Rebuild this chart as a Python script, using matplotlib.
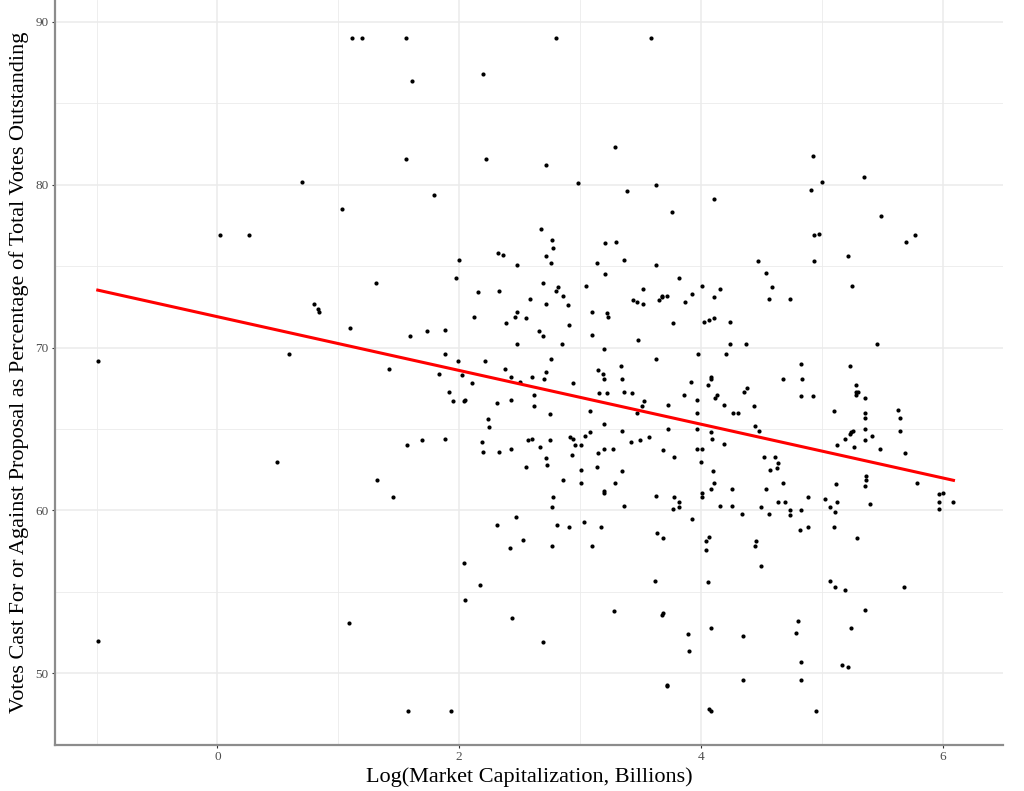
import matplotlib
matplotlib.use('Agg')
import matplotlib.pyplot as plt
import numpy as np

# log market cap (billions) and votes cast as % of outstanding
log_cap = [
    0.02, 0.26,
    1.11, 1.20, 1.56, 1.61, 2.20, 1.56, 2.22, 0.70, 1.79, 1.03,
    2.80, 3.59, 3.29, 2.72, 2.98, 3.63, 3.39, 3.76, 4.11, 2.68, 2.77, 2.78, 3.21, 3.30,
    4.93, 5.00, 4.91, 5.35, 5.49, 4.94, 4.98, 5.70, 5.77,
    -0.99, 0.59, 0.49,
    2.00, 2.32, 2.36, 2.48, 1.97, 1.31, 2.16, 2.33, 2.59, 0.80, 0.83, 0.84, 2.48, 2.46,
    2.55, 2.12, 2.39, 1.10, 1.88, 1.73, 1.59, 2.48, 1.88, 1.99, 2.21, 2.38, 1.42, 1.83,
    2.02, 2.43, 2.50, 2.60, 2.11, 1.92, 2.62, 1.95, 2.04, 2.05, 2.31, 2.43, 2.62, 2.24,
    2.25, 1.57, 1.69, 1.88, 2.19, 2.20, 2.33, 2.43, 2.57, 2.60, 2.55, 1.32, 1.45,
    2.72, 2.76, 3.14, 3.36, 3.63, 4.47, 4.54, 4.59, 3.21, 3.82, 2.69, 2.82, 2.80, 2.86,
    3.05, 3.52, 4.01, 4.16, 3.44, 3.47, 3.52, 3.65, 3.68, 3.68, 3.72, 3.93, 3.87, 4.11,
    4.56, 2.72, 2.90, 3.10, 3.22, 3.23, 2.91, 3.77, 4.03, 4.07, 4.11, 4.24, 2.66, 3.10,
    2.69, 3.48, 2.85, 4.24, 4.37, 3.20, 3.98, 4.21, 2.76, 3.63, 3.34, 2.72, 3.15, 3.19,
    3.35, 3.20, 2.70, 4.08, 4.08, 2.94, 3.92, 4.06, 4.38, 4.36, 3.16, 3.22, 3.36, 3.43,
    3.86, 4.13, 4.12, 3.97, 3.53, 3.51, 3.73, 4.19, 4.44, 3.08, 2.75, 3.47, 3.97, 4.27,
    4.31, 3.20, 4.45, 3.73, 3.97, 4.48, 3.35, 4.08, 3.08, 3.04, 2.92, 2.94, 2.75, 3.57,
    4.09, 3.42, 3.50, 4.19, 3.01, 2.67, 2.96, 3.20, 3.27, 3.69, 3.97, 4.01, 3.15, 2.93,
    3.78, 2.72, 4.52, 4.61, 4.00, 2.73, 3.14, 3.01, 3.35, 4.10, 4.57, 2.86, 3.29, 4.11,
    3.01, 3.20, 3.20, 3.63, 4.08, 4.01, 4.01, 4.26, 4.54, 2.78, 3.78,
    5.22, 4.94, 5.25, 4.74, 5.46, 4.83, 5.23, 4.68, 4.84, 4.83, 4.93, 5.28, 5.28, 5.30,
    5.28, 5.36, 5.10, 5.36, 5.36, 5.63, 5.65, 5.65, 5.36, 5.26, 5.24, 5.23, 5.19, 5.42,
    5.36, 5.13, 5.27, 5.48, 5.69, 4.64, 4.63, 4.68, 5.12, 5.37, 5.37, 5.36, 5.79, 4.89,
    5.03, 5.97, 6.00,
    -0.99,
    2.47, 2.31, 2.53, 2.42, 2.04, 2.17, 2.05, 2.44, 1.09, 1.58, 1.93,
    2.77, 3.36, 3.82, 3.82, 3.77, 4.16, 4.26, 4.50, 4.34, 4.56, 3.93, 2.81, 2.91, 3.03,
    3.17, 3.64, 3.69, 4.07, 4.04, 4.04, 4.46, 4.45, 2.77, 3.10, 4.50, 3.62, 4.06, 3.28,
    3.68, 3.69, 2.69, 3.89, 3.90, 4.08, 4.35, 4.35, 3.72, 3.72, 4.07, 4.08,
    4.64, 4.70, 5.13, 5.40, 5.97, 6.09, 5.97, 4.74, 4.74, 4.83, 5.07, 5.11, 4.82, 4.89,
    5.10, 5.29, 5.07, 5.11, 5.19, 5.68, 5.36, 4.80, 4.79, 5.24, 4.83, 5.17, 5.22, 4.83,
    4.95,
]
vote_pct = [
    76.9, 76.9,
    89.0, 89.0, 89.0, 86.4, 86.8, 81.6, 81.6, 80.2, 79.4, 78.5,
    89.0, 89.0, 82.3, 81.2, 80.1, 80.0, 79.6, 78.3, 79.1, 77.3, 76.6, 76.1, 76.4, 76.5,
    81.8, 80.2, 79.7, 80.5, 78.1, 76.9, 77.0, 76.5, 76.9,
    69.2, 69.6, 63.0,
    75.4, 75.8, 75.7, 75.1, 74.3, 74.0, 73.4, 73.5, 73.0, 72.7, 72.4, 72.2, 72.2, 71.9,
    71.8, 71.9, 71.5, 71.2, 71.1, 71.0, 70.7, 70.2, 69.6, 69.2, 69.2, 68.7, 68.7, 68.4,
    68.3, 68.2, 67.9, 68.2, 67.8, 67.3, 67.1, 66.7, 66.7, 66.8, 66.6, 66.8, 66.4, 65.6,
    65.1, 64.0, 64.3, 64.4, 64.2, 63.6, 63.6, 63.8, 64.3, 64.4, 62.7, 61.9, 60.8,
    75.6, 75.2, 75.2, 75.4, 75.1, 75.3, 74.6, 73.7, 74.5, 74.3, 74.0, 73.7, 73.5, 73.2,
    73.8, 73.6, 73.8, 73.6, 72.9, 72.8, 72.7, 72.9, 73.1, 73.2, 73.2, 73.3, 72.8, 73.1,
    73.0, 72.7, 72.6, 72.2, 72.1, 71.9, 71.4, 71.5, 71.6, 71.7, 71.8, 71.6, 71.0, 70.8,
    70.7, 70.5, 70.2, 70.2, 70.2, 69.9, 69.6, 69.6, 69.3, 69.3, 68.9, 68.5, 68.6, 68.4,
    68.1, 68.1, 68.1, 68.2, 68.1, 67.8, 67.9, 67.7, 67.5, 67.3, 67.2, 67.2, 67.3, 67.2,
    67.1, 67.1, 66.9, 66.8, 66.7, 66.4, 66.5, 66.5, 66.4, 66.1, 65.9, 66.0, 66.0, 66.0,
    66.0, 65.3, 65.2, 65.0, 65.0, 64.9, 64.9, 64.8, 64.8, 64.6, 64.5, 64.4, 64.3, 64.5,
    64.4, 64.2, 64.3, 64.1, 64.0, 63.9, 64.0, 63.8, 63.8, 63.7, 63.8, 63.8, 63.5, 63.4,
    63.3, 63.2, 63.3, 63.3, 63.0, 62.8, 62.7, 62.5, 62.4, 62.4, 62.5, 61.9, 61.7, 61.7,
    61.7, 61.2, 61.1, 60.9, 61.3, 61.1, 60.8, 61.3, 61.3, 60.8, 60.8,
    75.6, 75.3, 73.8, 73.0, 70.2, 69.0, 68.9, 68.1, 68.1, 67.0, 67.0, 67.7, 67.3, 67.3,
    67.1, 66.9, 66.1, 66.0, 65.7, 66.2, 65.7, 64.9, 65.0, 64.9, 64.8, 64.7, 64.4, 64.6,
    64.3, 64.0, 63.9, 63.8, 63.5, 62.9, 62.6, 61.7, 61.6, 62.1, 61.9, 61.5, 61.7, 60.8,
    60.7, 61.0, 61.1,
    52.0,
    59.6, 59.1, 58.2, 57.7, 56.8, 55.4, 54.5, 53.4, 53.1, 47.7, 47.7,
    60.2, 60.3, 60.5, 60.2, 60.1, 60.3, 60.3, 60.2, 59.8, 59.8, 59.5, 59.1, 59.0, 59.3,
    59.0, 58.6, 58.3, 58.4, 58.1, 57.6, 58.1, 57.8, 57.8, 57.8, 56.6, 55.7, 55.6, 53.8,
    53.6, 53.7, 51.9, 52.4, 51.4, 52.8, 52.3, 49.6, 49.3, 49.2, 47.8, 47.7,
    60.5, 60.5, 60.5, 60.4, 60.5, 60.5, 60.1, 60.0, 59.7, 60.0, 60.2, 59.9, 58.8, 59.0,
    59.0, 58.3, 55.7, 55.3, 55.1, 55.3, 53.9, 53.2, 52.5, 52.8, 50.7, 50.5, 50.4, 49.6,
    47.7,
]

# fitted line as drawn on the chart
fit_intercept = 71.9
fit_slope = -1.65

def main():
    plt.rcParams['font.family'] = ['Liberation Serif', 'DejaVu Serif']
    x = np.array(log_cap)
    y = np.array(vote_pct)

    fig = plt.figure(figsize=(10.24, 7.91), dpi=100)
    ax = fig.add_axes([0.0537, 0.0582, 0.9258, 0.9418])

    # ggplot-ish grid: major and minor lines
    for v in np.arange(-1, 7, 1):
        ax.axvline(v, color='#ebebeb', lw=1.1 if v % 2 == 0 else 0.6, zorder=0)
    for v in np.arange(45, 95, 5):
        ax.axhline(v, color='#ebebeb', lw=1.1 if v % 10 == 0 else 0.6, zorder=0)

    ax.scatter(x, y, s=9, color='black', zorder=2, linewidths=0)

    xs = np.array([x.min(), x.max()])
    ax.plot(xs, fit_intercept + fit_slope * xs, color='red', lw=2.2, zorder=3)

    ax.set_xlim(-1.344, 6.5)
    ax.set_ylim(45.6, 91.35)
    ax.set_xticks([0, 2, 4, 6])
    ax.set_yticks([50, 60, 70, 80, 90])
    ax.tick_params(colors='#4d4d4d', labelsize=9.5, length=2.5, width=0.8, pad=2)
    ax.tick_params(axis='both', color='#333333')

    for s in ['top', 'right']:
        ax.spines[s].set_visible(False)
    for s in ['left', 'bottom']:
        ax.spines[s].set_color('#8c8c8c')
        ax.spines[s].set_linewidth(1.6)

    ax.set_xlabel('Log(Market Capitalization, Billions)', fontsize=16, labelpad=3)
    ax.set_ylabel('Votes Cast For or Against Proposal as Percentage of Total Votes Outstanding',
                  fontsize=16, labelpad=5)

    plt.savefig('out.png', dpi=100)

if __name__ == '__main__': main()
